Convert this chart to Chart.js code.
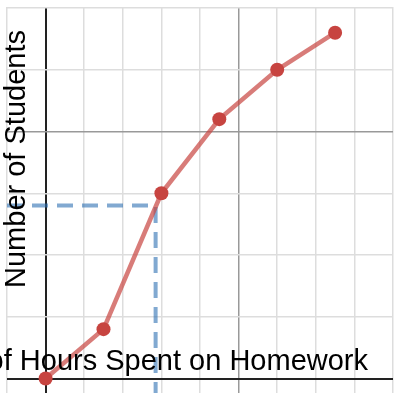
<!DOCTYPE html>
<html><head><style>html,body{margin:0;padding:0;background:#fff}#w{width:400px;height:400px}</style>
<script src="https://cdn.jsdelivr.net/npm/chart.js@4"></script></head>
<body><div id="w"><canvas id="c"></canvas></div>
<script>
const hours = [0, 15, 30, 45, 60, 75];
const students = [0, 4, 15, 21, 25, 28];
const medianX = [-10, 28.5, 28.5];
const medianY = [14, 14, -5];
const xTitle = "Number of Hours Spent on Homework";
const yTitle = "Number of Students";

const gridColor = (major, c) => {
  const v = c.tick && c.tick.value;
  if (v === 0) return '#222';
  if (v % major === 0) return '#999';
  return '#ddd';
};
const titles = {
  id: 'titles',
  afterDatasetsDraw(chart) {
    const ctx = chart.ctx;
    ctx.save();
    ctx.fillStyle = '#000';
    ctx.font = '29px "Liberation Sans", Arial, sans-serif';
    ctx.textAlign = 'right';
    ctx.textBaseline = 'alphabetic';
    ctx.fillText(xTitle, 368, 370);
    ctx.translate(25, 159);
    ctx.rotate(-Math.PI / 2);
    ctx.textAlign = 'center';
    ctx.fillText(yTitle, 0, 0);
    ctx.restore();
  }
};
new Chart(document.getElementById('c'), {
  type: 'scatter',
  data: {
    datasets: [
      { data: hours.map((h, i) => ({x: h, y: students[i]})), showLine: true,
        borderColor: 'rgba(199,68,64,0.7)', borderWidth: 4.5,
        pointRadius: 7, pointBackgroundColor: '#c74440', pointBorderWidth: 0, order: 1 },
      { data: medianX.map((h, i) => ({x: h, y: medianY[i]})), showLine: true,
        borderColor: 'rgba(45,112,179,0.6)', borderWidth: 4, borderDash: [16, 9],
        pointRadius: 0, order: 2 }
    ]
  },
  plugins: [titles],
  options: {
    responsive: true, maintainAspectRatio: false, animation: false,
    layout: { padding: { left: -6, right: -6, top: -5, bottom: -5 } },
    plugins: { legend: { display: false }, tooltip: { enabled: false } },
    scales: {
      x: { type: 'linear', min: -10, max: 90, border: { display: false },
        ticks: { display: false, stepSize: 10, includeBounds: false },
        grid: { color: c => gridColor(50, c), lineWidth: c => (c.tick && c.tick.value === 0) ? 2 : 1.5, drawTicks: false } },
      y: { type: 'linear', min: -1.17, max: 30.08, border: { display: false },
        ticks: { display: false, stepSize: 5, includeBounds: false },
        grid: { color: c => gridColor(20, c), lineWidth: c => (c.tick && c.tick.value === 0) ? 2 : 1.5, drawTicks: false } }
    }
  }
});
</script></body></html>
